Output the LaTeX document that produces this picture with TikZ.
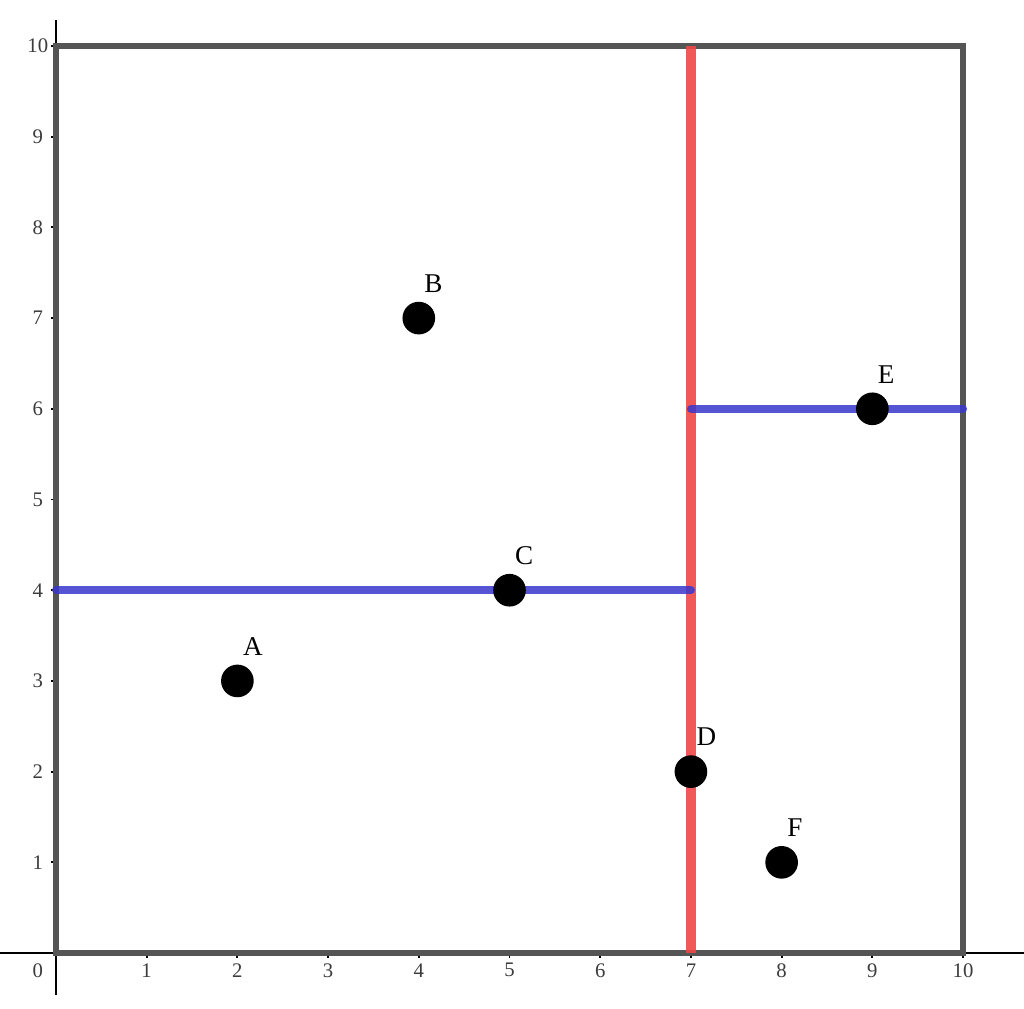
\documentclass[tikz,border=0pt]{standalone}
\usepackage{fontspec}
\setmainfont{Liberation Serif}
\usetikzlibrary{positioning}
\definecolor{framegray}{RGB}{85, 85, 85}
\definecolor{splitred}{RGB}{240, 70, 70}
\definecolor{splitblue}{RGB}{55, 55, 205}
\definecolor{ticktext}{RGB}{60, 60, 60}

\begin{document}
\begin{tikzpicture}[
  x=1cm, y=1cm,
  axis/.style={black, line width=0.6pt},
  frame/.style={draw=framegray, line width=1.9pt},
  xsplit/.style={splitred, line width=3pt, opacity=0.9},
  ysplit/.style={splitblue, line width=2.5pt, line cap=round, opacity=0.85},
  pt/.style={circle, fill=black, inner sep=0pt, minimum size=0.36cm},
  ptlabel/.style={font=\fontsize{8.5}{10}\selectfont, inner sep=1pt},
  ticklabel/.style={font=\fontsize{6.5}{8}\selectfont, text=ticktext, inner sep=1pt}
]
  \useasboundingbox (-0.617,-0.606) rectangle (10.672,10.507);

  % axes
  \draw[axis] (-0.617,0) -- (10.672,0);
  \draw[axis] (0,-0.46) -- (0,10.29);
  \foreach \i in {1,...,10} {
    \draw[axis] (\i,0) -- (\i,-0.05);
    \draw[axis] (0,\i) -- (-0.05,\i);
    \node[ticklabel] at (\i,-0.19) {\i};
    \node[ticklabel] at (-0.2,\i) {\i};
  }
  \node[ticklabel] at (-0.2,-0.19) {0};

  % region
  \draw[frame] (0,0) rectangle (10,10);

  % splitting lines
  \draw[xsplit] (7,0) -- (7,10);
  \draw[ysplit] (0,4) -- (7,4);
  \draw[ysplit] (7,6) -- (10,6);

  % points
  \foreach \name/\x/\y in {A/2/3, B/4/7, C/5/4, D/7/2, E/9/6, F/8/1} {
    \node[pt] (\name) at (\x,\y) {};
    \node[ptlabel, above right=0.24cm and 0.02cm of \name.center] (lbl\name) {\name};
  }
\end{tikzpicture}
\end{document}
